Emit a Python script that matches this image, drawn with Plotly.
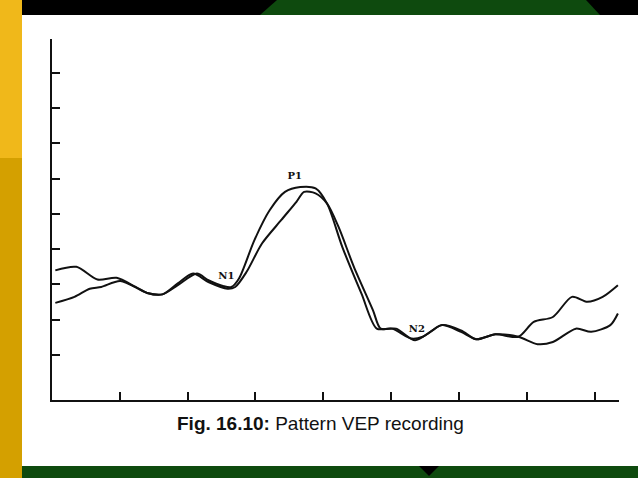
import plotly.graph_objects as go

xa = [0.049,0.359,0.670,0.952,1.234,1.403,1.629,1.855,2.137,2.306,2.532,2.645,2.757,2.983,3.209,3.435,3.660,3.886,4.056,4.281,4.563,4.789,5.015,5.297,5.466,5.749,6.031,6.257,6.539,6.877,7.103,7.385,7.667,7.893,8.119,8.344]
ya = [3.40,3.50,3.14,3.19,2.93,2.76,2.72,2.98,3.31,3.12,2.95,2.93,3.17,4.25,5.10,5.62,5.76,5.72,5.29,4.06,2.74,1.75,1.75,1.47,1.52,1.85,1.70,1.45,1.59,1.52,1.94,2.08,2.65,2.51,2.65,2.98]
xb = [0.049,0.331,0.557,0.726,1.008,1.403,1.629,1.855,2.080,2.306,2.588,2.701,2.870,3.096,3.378,3.604,3.717,3.886,4.056,4.225,4.451,4.733,4.846,5.072,5.353,5.579,5.749,6.031,6.257,6.539,6.877,7.159,7.385,7.724,7.950,8.232,8.344]
yb = [2.48,2.65,2.88,2.93,3.10,2.76,2.72,3.03,3.31,3.07,2.88,2.93,3.36,4.16,4.82,5.34,5.62,5.58,5.29,4.63,3.50,2.27,1.75,1.75,1.42,1.66,1.85,1.66,1.45,1.59,1.52,1.31,1.37,1.75,1.66,1.85,2.18]
peak_labels = ["N1", "P1", "N2"]
peak_x = [2.57, 3.58, 5.38]
peak_y = [3.24, 6.05, 1.74]
xticks = [1, 2, 3, 4, 5, 6, 7, 8]
yticks = [1, 2, 3, 4, 5, 6, 7, 8, 9]

fig = go.Figure()
for xs, ys in [(xa, ya), (xb, yb)]:
    fig.add_trace(go.Scatter(x=xs, y=ys, mode="lines",
                             line=dict(color="#111", width=2, shape="spline", smoothing=0.8),
                             showlegend=False, hoverinfo="skip"))
fig.add_trace(go.Scatter(x=peak_x, y=peak_y, mode="text", text=[f"<b>{t}</b>" for t in peak_labels],
                         textfont=dict(family="DejaVu Serif", size=10, color="#111"),
                         showlegend=False, hoverinfo="skip"))

W, H = 638, 478
L, R, T, B = 52, 619, 39, 400
def px(x): return (x - L) / (R - L)
def py(y): return (B - y) / (B - T)

shapes = [
    dict(type="rect", xref="paper", yref="paper", x0=px(0), x1=px(W), y0=py(15), y1=py(0), fillcolor="black", line_width=0, layer="below"),
    dict(type="path", xref="paper", yref="paper", path=f"M {px(260)} {py(15)} L {px(277)} {py(0)} L {px(586)} {py(0)} L {px(600)} {py(15)} Z", fillcolor="#0e4a0e", line_width=0, layer="below"),
    dict(type="rect", xref="paper", yref="paper", x0=px(0), x1=px(22), y0=py(158), y1=py(0), fillcolor="#f0b81a", line_width=0, layer="below"),
    dict(type="rect", xref="paper", yref="paper", x0=px(0), x1=px(22), y0=py(478), y1=py(158), fillcolor="#d4a000", line_width=0, layer="below"),
    dict(type="rect", xref="paper", yref="paper", x0=px(22), x1=px(W), y0=py(478), y1=py(466), fillcolor="#0e4a0e", line_width=0, layer="below"),
    dict(type="path", xref="paper", yref="paper", path=f"M {px(419)} {py(466)} L {px(439)} {py(466)} L {px(429)} {py(476)} Z", fillcolor="black", line_width=0, layer="below"),
]

fig.update_layout(
    width=W, height=H, margin=dict(l=L, r=W - R, t=T, b=H - B),
    paper_bgcolor="white", plot_bgcolor="rgba(0,0,0,0)",
    shapes=shapes,
    xaxis=dict(range=[0, 8.36], showgrid=False, zeroline=False, showline=True, linecolor="#111", linewidth=2,
               ticks="inside", ticklen=8, tickwidth=2, tickcolor="#111", tickvals=xticks, showticklabels=False),
    yaxis=dict(range=[-0.27, 9.95], showgrid=False, zeroline=False, showline=True, linecolor="#111", linewidth=2,
               ticks="inside", ticklen=8, tickwidth=2, tickcolor="#111", tickvals=yticks, showticklabels=False),
    annotations=[dict(xref="paper", yref="paper", x=px(320), y=py(436), showarrow=False,
                      text="<b>Fig. 16.10:</b> Pattern VEP recording",
                      font=dict(family="Liberation Sans", size=19, color="#111"))],
)
fig.write_html("out.html", config={"displayModeBar": False},
               post_script="document.body.style.margin='0';document.body.style.overflow='hidden';")
